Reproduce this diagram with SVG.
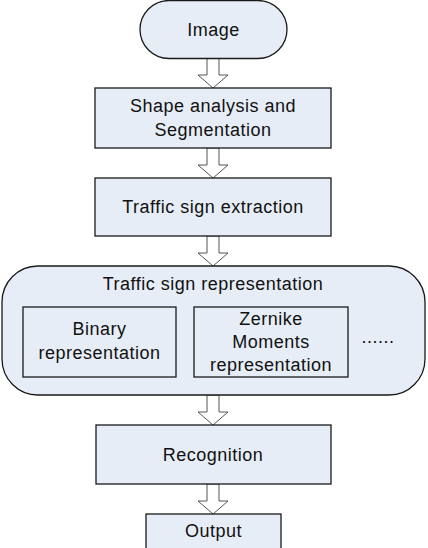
<svg xmlns="http://www.w3.org/2000/svg" width="428" height="548" viewBox="0 0 428 548">
<style>
.box{fill:#e7edf6;stroke:#1a1a1a;stroke-width:1.3}
.arr{fill:#ffffff;stroke:#555555;stroke-width:1}
text{font-family:"Liberation Sans",Arial,sans-serif;font-size:18px;fill:#111;text-anchor:middle;letter-spacing:0.5px}
</style>
<defs>
<path id="arrow" d="M-6,0 L6,0 L6,17 L15,17 L0,30 L-15,17 L-6,17 Z"/>
</defs>
<rect width="428" height="548" fill="#ffffff"/>
<g id="connectors">
<use href="#arrow" class="arr" x="213" y="58"/>
<use href="#arrow" class="arr" x="213" y="148"/>
<use href="#arrow" class="arr" x="213" y="236"/>
<use href="#arrow" class="arr" x="213" y="395"/>
<use href="#arrow" class="arr" x="213" y="484"/>
</g>
<g id="image">
<rect class="box" x="140" y="0.5" width="147" height="58" rx="29"/>
<text x="213.5" y="36">Image</text>
</g>
<g id="shape">
<rect class="box" x="95" y="88" width="236" height="60"/>
<text x="213" y="112">Shape analysis and</text>
<text x="213" y="136">Segmentation</text>
</g>
<g id="extraction">
<rect class="box" x="95" y="178" width="236" height="58"/>
<text x="213" y="213">Traffic sign extraction</text>
</g>
<g id="representation">
<rect class="box" x="2" y="266" width="423" height="129" rx="36"/>
<text x="213" y="290">Traffic sign representation</text>
</g>
<g id="binary">
<rect class="box" x="23" y="307" width="153" height="70"/>
<text x="99.5" y="335">Binary</text>
<text x="99.5" y="359">representation</text>
</g>
<g id="zernike">
<rect class="box" x="194" y="307" width="154" height="70"/>
<text x="271" y="325">Zernike</text>
<text x="271" y="348">Moments</text>
<text x="271" y="371">representation</text>
</g>
<g id="dots">
<text x="378" y="343">......</text>
</g>
<g id="recognition">
<rect class="box" x="96" y="425" width="235" height="59"/>
<text x="213" y="461">Recognition</text>
</g>
<g id="output">
<rect class="box" x="146" y="514" width="135" height="40"/>
<text x="213.5" y="537">Output</text>
</g>
</svg>
